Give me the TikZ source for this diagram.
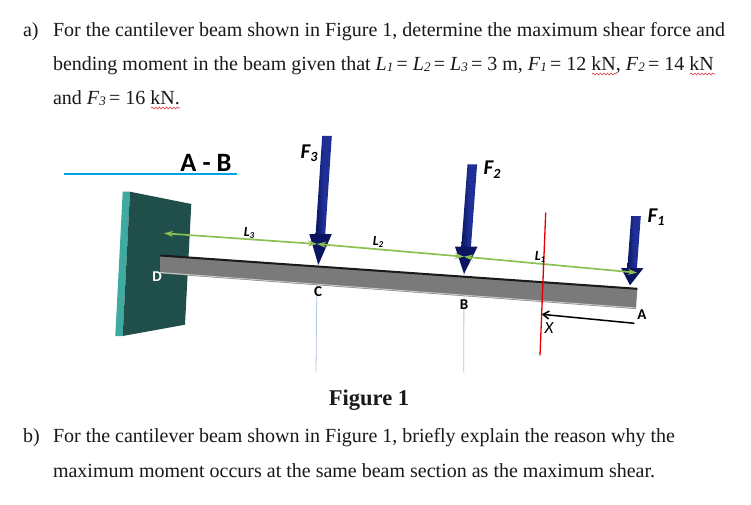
\documentclass[tikz,border=0pt]{standalone}
\usepackage{fontspec}
\setmainfont{Liberation Serif}
\newfontfamily\labelfont{Carlito}
\usetikzlibrary{decorations.pathmorphing,arrows.meta}
\definecolor{wallfront}{HTML}{1F4E4B}
\definecolor{wallside}{HTML}{3FAAA0}
\definecolor{forcedark}{HTML}{0C1660}
\definecolor{forceblue}{HTML}{1F2F96}
\definecolor{dimgreen}{HTML}{8CC152}
\definecolor{headblue}{HTML}{00A2E8}
\definecolor{guide}{HTML}{B4C7E0}
\definecolor{squiggle}{HTML}{E0404A}
\tikzset{
  x=1pt,y=-1pt,
  body/.style={inner sep=0,outer sep=0,anchor=base west,font=\fontsize{20}{22}\selectfont,text=black!90},
  capt/.style={inner sep=0,outer sep=0,anchor=base,font=\labelfont\itshape\bfseries\fontsize{21}{23}\selectfont},
  small/.style={inner sep=0,outer sep=0,anchor=base,font=\labelfont\itshape\bfseries\fontsize{14}{16}\selectfont},
  tag/.style={inner sep=0,outer sep=0,anchor=center,font=\labelfont\bfseries\fontsize{15}{16}\selectfont},
  dimline/.style={draw=dimgreen,line width=1.7pt},
  spell/.style={draw=squiggle,line width=0.6pt,decorate,decoration={snake,amplitude=1pt,segment length=3.6pt}},
}
\newcommand{\forcearrow}[5]{% top x, top y, head y, tip x, tip y
  \shade[left color=forcedark,right color=forceblue,middle color=forceblue]
    (#1-4.8,#2) -- (#1+4.8,#2) -- (#4+6.8,#3+2) -- (#4-2.8,#3+2) -- cycle;
  \fill[forcedark] (#4-9,#3) -- (#4+13.5,#3) -- (#4,#5) -- cycle;
}
\newcommand{\sub}[1]{{\fontsize{13}{13}\selectfont\raisebox{-1pt}{\itshape #1}}}
\begin{document}
\begin{tikzpicture}
\useasboundingbox (0,0) rectangle (751,505);
\fill[white] (0,0) rectangle (751,505);
% text
\node[body] (ta) at (23,36.5) {a)};
\node[body] (t1) at (53,36.5) {For the cantilever beam shown in Figure 1, determine the maximum shear force and};
\node[body] (t2) at (53,70.5) {bending moment in the beam given that \textit{L}\sub{1}\,= \textit{L}\sub{2}\,= \textit{L}\sub{3}\,= 3 m, \textit{F}\sub{1}\,= 12 kN, \textit{F}\sub{2}\,= 14 kN\kern0pt};
\node[body] (t3) at (53,104.5) {and \textit{F}\sub{3}\,= 16 kN.};
\node[body,anchor=base,font=\bfseries\fontsize{22.5}{24}\selectfont] (fig) at (369,405) {Figure 1};
\node[body] (tb) at (23,442) {b)};
\node[body] (t4) at (53,442) {For the cantilever beam shown in Figure 1, briefly explain the reason why the};
\node[body] (t5) at (53,477) {maximum moment occurs at the same beam section as the maximum shear.};
% spelling marks
\draw[spell] (592,74) -- (617,74);
\draw[spell] (690,74) -- (715,74);
\draw[spell] (151,108) -- (180,108);
% heading
\coordinate (hl) at (63.5,174);
\coordinate (hr) at (236.5,174);
\draw[headblue,line width=2.4pt] (hl) -- (hr);
\node[inner sep=0,font=\labelfont\bfseries\fontsize{26.5}{29}\selectfont] (ab) at (206,163) {A - B};
% wall
\fill[wallside] (122.7,191.7) -- (130,191.7) -- (122.7,336) -- (115.3,336) -- cycle;
\fill[wallfront] (130,191.7) -- (191.3,204) -- (185,324.7) -- (122.7,336) -- cycle;
% guides
\coordinate (Ct) at (317,265); \coordinate (Cb) at (316,372);
\coordinate (Bt) at (464,274); \coordinate (Bb) at (463.7,372);
\draw[guide,line width=0.8pt] (Ct) -- (Cb);
\draw[guide,line width=0.8pt] (Bt) -- (Bb);
% beam
\fill[black!52] (160,255) -- (637.3,288.3) -- (636,309) -- (160,273.5) -- cycle;
\draw[black!90,line width=2pt] (160,255.5) -- (637.3,288.8);
\draw[black!22,line width=1pt] (160,272.5) -- (636,308);
\node[tag,text=white] (D) at (157,277) {D};
\node[tag] (C) at (318,292) {C};
\node[tag] (B) at (464,305) {B};
\node[tag] (A) at (642,315) {A};
\node[small,font=\labelfont\itshape\fontsize{17}{19}\selectfont] (X) at (549,333) {X};
% forces
\forcearrow{327}{136}{234}{318.3}{265}
\forcearrow{472.3}{164.3}{246.7}{464}{274}
\forcearrow{636}{216}{268}{630}{285.3}
% dimension lines
\coordinate (De) at (164,233.3);
\coordinate (Ce) at (317,244);
\coordinate (Be) at (464,256.7);
\coordinate (Ae) at (637,272.7);
\draw[dimline,{Stealth[length=9pt,width=6pt]}-{Stealth[length=9pt,width=6pt]}] (De) -- (Ce);
\draw[dimline,{Stealth[length=9pt,width=6pt]}-{Stealth[length=9pt,width=6pt]}] (Ce) -- (Be);
\draw[dimline,{Stealth[length=9pt,width=6pt]}-{Stealth[length=9pt,width=6pt]}] (Be) -- (Ae);
% section
\coordinate (Rt) at (545.7,212.7); \coordinate (Rb) at (540,355.3);
\draw[red!90!black,line width=1.3pt] (Rt) -- (Rb);
\coordinate (Xs) at (634.3,323.3); \coordinate (Xe) at (541.7,314.3);
\draw[black,line width=1.5pt,-{Straight Barb[length=6pt,width=8pt]}] (Xs) -- (Xe);
% labels
\node[capt] (f3) at (309,158) {F\raisebox{-3pt}{\fontsize{14}{14}\selectfont 3}};
\node[capt] (f2) at (492,175) {F\raisebox{-3pt}{\fontsize{14}{14}\selectfont 2}};
\node[capt] (f1) at (656,222) {F\raisebox{-3pt}{\fontsize{14}{14}\selectfont 1}};
\node[small] (l3) at (249,236) {L\raisebox{-2pt}{\fontsize{9}{9}\selectfont 3}};
\node[small] (l2) at (378,245) {L\raisebox{-2pt}{\fontsize{9}{9}\selectfont 2}};
\node[small] (l1) at (540,260) {L\raisebox{-2pt}{\fontsize{9}{9}\selectfont 1}};
\end{tikzpicture}
\end{document}
